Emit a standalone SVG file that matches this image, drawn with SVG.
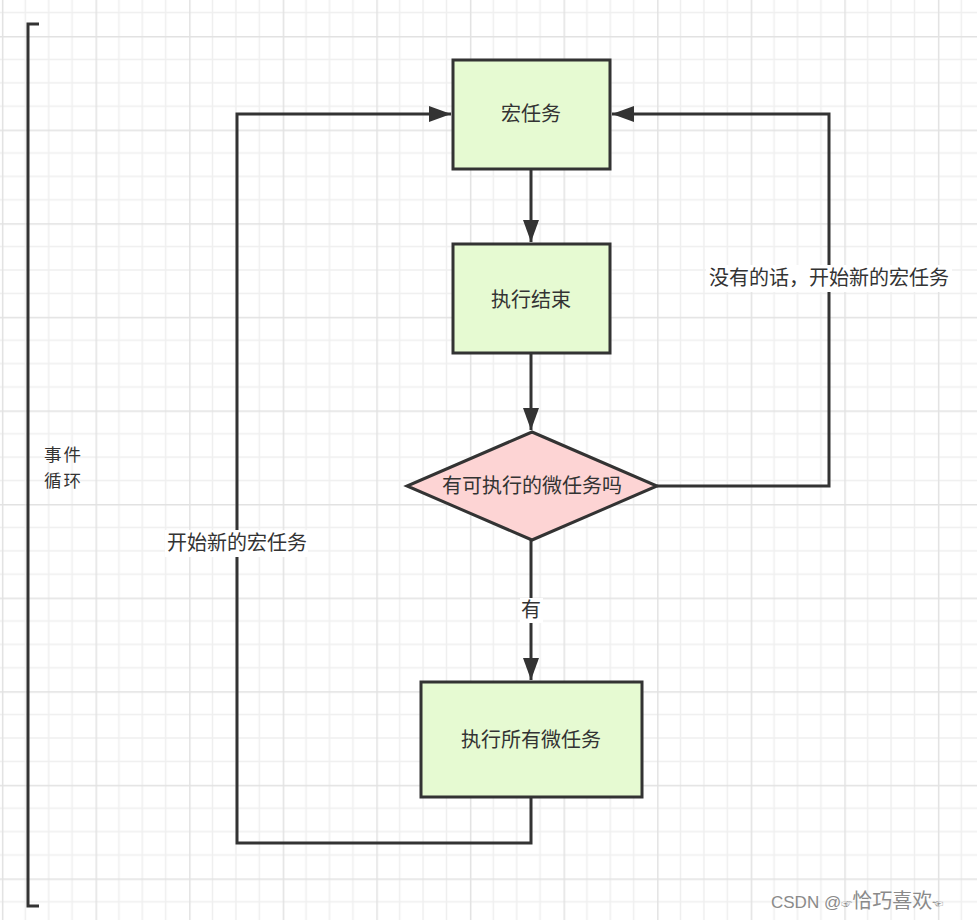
<svg xmlns="http://www.w3.org/2000/svg" width="977" height="920" viewBox="0 0 977 920">
<style>
.box{fill:#e6fad2;stroke:#333;stroke-width:3}
.dia{fill:#fdd4d4;stroke:#333;stroke-width:3}
.ln{fill:none;stroke:#333;stroke-width:3}
.t{font-family:"Noto Sans CJK SC","Noto Sans",sans-serif;font-size:20px;fill:#333}
.s{font-size:17.5px;letter-spacing:2px}
.c{text-anchor:middle}
.lbg{fill:#fff}
.wm{font-family:"Liberation Sans","Noto Sans CJK SC",sans-serif;fill:#8a8a8a}
</style>
<defs>
<pattern id="grid" patternUnits="userSpaceOnUse" x="1.9" y="36" width="93.6" height="93.6">
<path d="M23.4 0V93.6M46.8 0V93.6M70.2 0V93.6M0 23.4H93.6M0 46.8H93.6M0 70.2H93.6" stroke="#efefef" stroke-width="1.5" fill="none"/>
<path d="M0.75 0V93.6M0 0.75H93.6" stroke="#e2e2e2" stroke-width="1.5" fill="none"/>
</pattern>
<marker id="arr" markerUnits="userSpaceOnUse" markerWidth="24" markerHeight="18" refX="22" refY="8" orient="auto">
<path d="M0 0L22 8L0 16Z" fill="#333"/>
</marker>
</defs>
<rect width="977" height="920" fill="#fff"/>
<rect width="977" height="920" fill="url(#grid)"/>

<g id="bracket">
<path class="ln" d="M39 24H28V906H39"/>
<text class="t s" x="44" y="461">事件</text>
<text class="t s" x="44" y="487">循环</text>
</g>

<g id="connectors">
<path class="ln" d="M531 169V242" marker-end="url(#arr)"/>
<path class="ln" d="M531 353V430" marker-end="url(#arr)"/>
<path class="ln" d="M531 540V680" marker-end="url(#arr)"/>
<path class="ln" d="M531 797V843H237V114H451" marker-end="url(#arr)"/>
<path class="ln" d="M657 486H829V114H612" marker-end="url(#arr)"/>
<rect class="lbg" x="520" y="598" width="23" height="25"/>
<text class="t c" x="531" y="617">有</text>
<rect class="lbg" x="165" y="530" width="143" height="27"/>
<text class="t c" x="237" y="550">开始新的宏任务</text>
<rect class="lbg" x="706" y="265" width="246" height="27"/>
<text class="t c" x="829" y="285">没有的话，开始新的宏任务</text>
</g>

<g id="macro">
<rect class="box" x="453" y="60" width="157" height="109"/>
<text class="t c" x="531" y="121">宏任务</text>
</g>
<g id="end">
<rect class="box" x="453" y="244" width="157" height="109"/>
<text class="t c" x="531" y="307">执行结束</text>
</g>
<g id="decision">
<path class="dia" d="M532 432L657 486L532 540L407 486Z"/>
<text class="t c" x="532" y="493">有可执行的微任务吗</text>
</g>
<g id="micro">
<rect class="box" x="421" y="682" width="221" height="115"/>
<text class="t c" x="531" y="747">执行所有微任务</text>
</g>

<g id="watermark">
<text class="wm" x="771" y="908" font-size="17">CSDN @<tspan font-size="11">☞</tspan><tspan font-size="20">恰巧喜欢</tspan><tspan font-size="11">☜</tspan></text>
</g>
</svg>
